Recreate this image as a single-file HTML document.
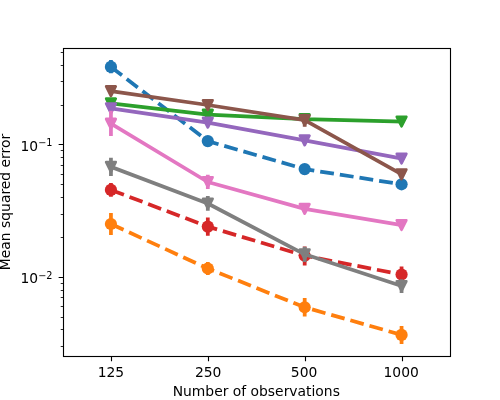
<!DOCTYPE html>
<html><head><meta charset="utf-8"><title>Mean squared error vs number of observations</title>
<style>html,body{margin:0;padding:0;background:#fff}svg{display:block}</style></head>
<body>
<svg width="500" height="400" viewBox="0 0 500 400">
<rect width="500" height="400" fill="#fff"/>
<clipPath id="c"><rect x="62.5" y="48" width="387.5" height="308"/></clipPath>
<g clip-path="url(#c)" fill="none" stroke-width="3.75" stroke-linejoin="round">
<g stroke="#1f77b4">
<path d="M110.94 66.9L207.81 141.1L304.69 169.1L401.56 184.3" stroke-dasharray="13.88 6"/>
<path d="M110.94 61.9V71.3" stroke-linecap="square"/>
<circle cx="110.94" cy="66.9" r="6.11" fill="#1f77b4" stroke="none"/>
<circle cx="207.81" cy="141.1" r="6.11" fill="#1f77b4" stroke="none"/>
<circle cx="304.69" cy="169.1" r="6.11" fill="#1f77b4" stroke="none"/>
<circle cx="401.56" cy="184.3" r="6.11" fill="#1f77b4" stroke="none"/>
</g>
<g stroke="#ff7f0e">
<path d="M110.94 224L207.81 268.5L304.69 307.3L401.56 334.9" stroke-dasharray="13.88 6"/>
<path d="M110.94 214.8V233M207.81 263.8V273.2M304.69 299.9V314.6M401.56 327.9V342.1" stroke-linecap="square"/>
<circle cx="110.94" cy="224" r="6.11" fill="#ff7f0e" stroke="none"/>
<circle cx="207.81" cy="268.5" r="6.11" fill="#ff7f0e" stroke="none"/>
<circle cx="304.69" cy="307.3" r="6.11" fill="#ff7f0e" stroke="none"/>
<circle cx="401.56" cy="334.9" r="6.11" fill="#ff7f0e" stroke="none"/>
</g>
<g stroke="#2ca02c">
<path d="M110.94 103.4L207.81 114.7L304.69 119.2L401.56 121.5" stroke-linecap="square"/>
<path d="M110.94 108.1L115.64 98.7L106.24 98.7Z" fill="#2ca02c" stroke-width="2.81"/>
<path d="M207.81 119.4L212.51 110L203.11 110Z" fill="#2ca02c" stroke-width="2.81"/>
<path d="M304.69 123.9L309.39 114.5L299.99 114.5Z" fill="#2ca02c" stroke-width="2.81"/>
<path d="M401.56 126.2L406.26 116.8L396.86 116.8Z" fill="#2ca02c" stroke-width="2.81"/>
</g>
<g stroke="#d62728">
<path d="M110.94 189.9L207.81 226.6L304.69 255.7L401.56 274.5" stroke-dasharray="13.88 6"/>
<path d="M110.94 184.9V194.9M207.81 219.4V233.8M304.69 248.4V263.5M401.56 268.3V280.8" stroke-linecap="square"/>
<circle cx="110.94" cy="189.9" r="6.11" fill="#d62728" stroke="none"/>
<circle cx="207.81" cy="226.6" r="6.11" fill="#d62728" stroke="none"/>
<circle cx="304.69" cy="255.7" r="6.11" fill="#d62728" stroke="none"/>
<circle cx="401.56" cy="274.5" r="6.11" fill="#d62728" stroke="none"/>
</g>
<g stroke="#9467bd">
<path d="M110.94 108.4L207.81 122.6L304.69 140.4L401.56 158.5" stroke-linecap="square"/>
<path d="M110.94 113.1L115.64 103.7L106.24 103.7Z" fill="#9467bd" stroke-width="2.81"/>
<path d="M207.81 127.3L212.51 117.9L203.11 117.9Z" fill="#9467bd" stroke-width="2.81"/>
<path d="M304.69 145.1L309.39 135.7L299.99 135.7Z" fill="#9467bd" stroke-width="2.81"/>
<path d="M401.56 163.2L406.26 153.8L396.86 153.8Z" fill="#9467bd" stroke-width="2.81"/>
</g>
<g stroke="#8c564b">
<path d="M110.94 91.1L207.81 105L304.69 120.2L401.56 174.3" stroke-linecap="square"/>
<path d="M304.69 115.7V124.9" stroke-linecap="square"/>
<path d="M110.94 95.8L115.64 86.4L106.24 86.4Z" fill="#8c564b" stroke-width="2.81"/>
<path d="M207.81 109.7L212.51 100.3L203.11 100.3Z" fill="#8c564b" stroke-width="2.81"/>
<path d="M304.69 124.9L309.39 115.5L299.99 115.5Z" fill="#8c564b" stroke-width="2.81"/>
<path d="M401.56 179L406.26 169.6L396.86 169.6Z" fill="#8c564b" stroke-width="2.81"/>
</g>
<g stroke="#e377c2">
<path d="M110.94 123.7L207.81 182L304.69 208.9L401.56 225" stroke-linecap="square"/>
<path d="M110.94 112.6V134.1M207.81 176.5V187" stroke-linecap="square"/>
<path d="M110.94 128.4L115.64 119L106.24 119Z" fill="#e377c2" stroke-width="2.81"/>
<path d="M207.81 186.7L212.51 177.3L203.11 177.3Z" fill="#e377c2" stroke-width="2.81"/>
<path d="M304.69 213.6L309.39 204.2L299.99 204.2Z" fill="#e377c2" stroke-width="2.81"/>
<path d="M401.56 229.7L406.26 220.3L396.86 220.3Z" fill="#e377c2" stroke-width="2.81"/>
</g>
<g stroke="#7f7f7f">
<path d="M110.94 166.8L207.81 203.5L304.69 254.3L401.56 286" stroke-linecap="square"/>
<path d="M110.94 159.6V174.2M207.81 197.9V208.9M304.69 248.6V260.2M401.56 281V291.2" stroke-linecap="square"/>
<path d="M110.94 171.5L115.64 162.1L106.24 162.1Z" fill="#7f7f7f" stroke-width="2.81"/>
<path d="M207.81 208.2L212.51 198.8L203.11 198.8Z" fill="#7f7f7f" stroke-width="2.81"/>
<path d="M304.69 259L309.39 249.6L299.99 249.6Z" fill="#7f7f7f" stroke-width="2.81"/>
<path d="M401.56 290.7L406.26 281.3L396.86 281.3Z" fill="#7f7f7f" stroke-width="2.81"/>
</g>
</g>
<path d="M63.5 144.5h-4.86M63.5 277.5h-4.86" stroke="#000" stroke-width="1.11" fill="none"/>
<path d="M63.5 52.5h-2.78M63.5 65.5h-2.78M63.5 81.5h-2.78M63.5 105.5h-2.78M63.5 150.5h-2.78M63.5 157.5h-2.78M63.5 165.5h-2.78M63.5 174.5h-2.78M63.5 184.5h-2.78M63.5 197.5h-2.78M63.5 214.5h-2.78M63.5 237.5h-2.78M63.5 283.5h-2.78M63.5 290.5h-2.78M63.5 297.5h-2.78M63.5 306.5h-2.78M63.5 317.5h-2.78M63.5 329.5h-2.78M63.5 346.5h-2.78" stroke="#000" stroke-width="0.83" fill="none"/>
<path d="M111.5 356.5v4.86M208.5 356.5v4.86M305.5 356.5v4.86M402.5 356.5v4.86" stroke="#000" stroke-width="1.11" fill="none"/>
<rect x="63.5" y="48.5" width="387" height="308" fill="none" stroke="#000" stroke-width="1.11" stroke-linejoin="miter"/>
<g font-family="'DejaVu Sans', 'Liberation Sans', sans-serif" font-size="13.89" fill="#000">
<text x="110.94" y="377.2" text-anchor="middle">125</text>
<text x="208.2" y="377.2" text-anchor="middle">250</text>
<text x="304.1" y="377.2" text-anchor="middle">500</text>
<text x="401.2" y="377.2" text-anchor="middle">1000</text>
<text x="256.25" y="395.8" text-anchor="middle">Number of observations</text>
<text transform="translate(10.4,202) rotate(-90)" text-anchor="middle">Mean squared error</text>
<text x="52.5" y="150.6" text-anchor="end">10<tspan font-size="9.72" dy="-4.4">−1</tspan></text>
<text x="52.5" y="283" text-anchor="end">10<tspan font-size="9.72" dy="-4.4">−2</tspan></text>
</g>
</svg>
</body></html>
